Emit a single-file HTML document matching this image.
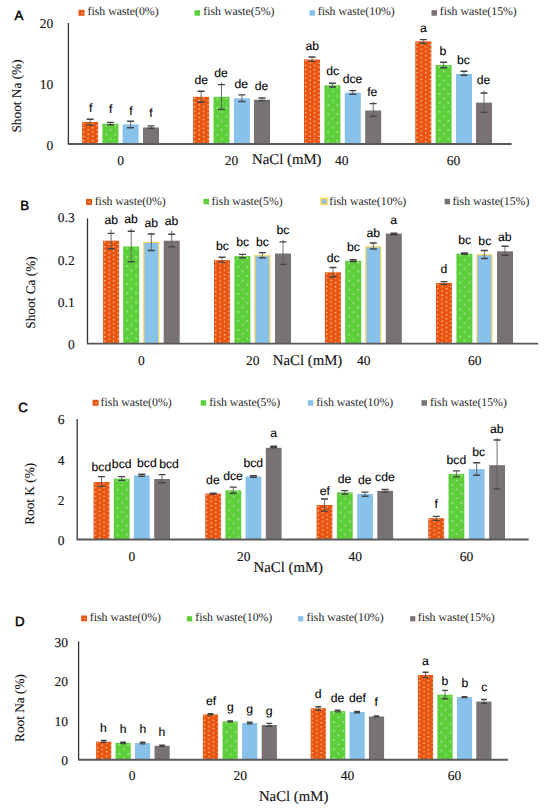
<!DOCTYPE html>
<html><head><meta charset="utf-8"><title>Chart</title>
<style>
html,body{margin:0;padding:0;background:#fff;}
svg{display:block;text-rendering:geometricPrecision;}
.s{font-family:"Liberation Serif",serif;fill:#111;stroke:#111;stroke-width:0.12px;}
.l{font-family:"Liberation Sans",sans-serif;fill:#000;stroke:#000;stroke-width:0.12px;}
.lg{font-family:"Liberation Serif",serif;fill:#262626;}
</style></head><body>
<svg width="550" height="811" viewBox="0 0 550 811">
<defs>
<pattern id="pO" patternUnits="userSpaceOnUse" width="8.86" height="4.3"><rect width="8.86" height="4.3" fill="#E9540F"/><rect x="1" y="0.9" width="1.3" height="1.2" fill="#f8d9c2"/><rect x="5.43" y="3.05" width="1.3" height="1.2" fill="#f8d9c2"/></pattern>
<pattern id="pG" patternUnits="userSpaceOnUse" width="8.9" height="9"><rect width="8.9" height="9" fill="#5DCF3B"/><rect x="3.3" y="1.2" width="1.4" height="1.3" fill="#d4f0c8"/><rect x="7.75" y="5.7" width="1.4" height="1.3" fill="#d4f0c8"/></pattern>
</defs>
<rect width="550" height="811" fill="#fff"/>
<text class="l" x="14.4" y="20.3" font-size="13.3" style="stroke-width:0.45px">A</text>
<rect x="78.5" y="9.8" width="6" height="6" fill="#E9540F"/>
<rect x="81.3" y="12.4" width="1.3" height="1.3" fill="#f8d9c2"/>
<text class="lg" x="87.5" y="15.4" font-size="11.8">fish waste(0%)</text>
<rect x="194.5" y="10.2" width="5.5" height="5.5" fill="#5DCF3B"/>
<text class="lg" x="203.3" y="15.4" font-size="11.8">fish waste(5%)</text>
<rect x="309.5" y="10.2" width="5.5" height="5.5" fill="#88C1E9"/>
<text class="lg" x="317.8" y="15.4" font-size="11.8">fish waste(10%)</text>
<rect x="431.5" y="10.2" width="5.5" height="5.5" fill="#787272"/>
<text class="lg" x="439.8" y="15.4" font-size="11.8">fish waste(15%)</text>
<line x1="68.4" y1="23" x2="68.4" y2="144" stroke="#333" stroke-width="1.3"/>
<text class="s" x="53.2" y="28.2" font-size="13.5" text-anchor="end">20</text>
<text class="s" x="53.2" y="89.4" font-size="13.5" text-anchor="end">10</text>
<text class="s" x="53.2" y="150.2" font-size="13.5" text-anchor="end">0</text>
<text class="s" font-size="13.3" text-anchor="middle" transform="translate(16.9 96) rotate(-90)" y="4.5">Shoot Na (%)</text>
<text class="s" x="120.5" y="165.4" font-size="13.5" text-anchor="middle">0</text>
<text class="s" x="231.5" y="165.4" font-size="13.5" text-anchor="middle">20</text>
<text class="s" x="341.8" y="165.4" font-size="13.5" text-anchor="middle">40</text>
<text class="s" x="453.5" y="165.4" font-size="13.5" text-anchor="middle">60</text>
<text class="s" x="252.1" y="164.2" font-size="14.8">NaCl (mM)</text>
<rect transform="translate(82.1 122)" width="16" height="22" fill="url(#pO)"/>
<path d="M90.1 119.3V125.1" stroke="#5e5e5e" stroke-width="0.9" fill="none"/>
<path d="M86.6 119.3H93.6M86.6 125.1H93.6" stroke="#444444" stroke-width="1.4" fill="none"/>
<text class="l" x="90.7" y="111.7" font-size="12.2" text-anchor="middle">f</text>
<rect transform="translate(102.4 123.7)" width="16" height="20.3" fill="url(#pG)"/>
<path d="M110.4 122.4V124.8" stroke="#5e5e5e" stroke-width="0.9" fill="none"/>
<path d="M106.9 122.4H113.9M106.9 124.8H113.9" stroke="#444444" stroke-width="1.4" fill="none"/>
<text class="l" x="110.8" y="113.2" font-size="12.2" text-anchor="middle">f</text>
<rect x="122.6" y="124.4" width="16" height="19.6" fill="#88C1E9"/>
<path d="M130.6 121.3V127.8" stroke="#5e5e5e" stroke-width="0.9" fill="none"/>
<path d="M127.1 121.3H134.1M127.1 127.8H134.1" stroke="#444444" stroke-width="1.4" fill="none"/>
<text class="l" x="131" y="114.8" font-size="12.2" text-anchor="middle">f</text>
<rect x="143" y="127.5" width="16" height="16.5" fill="#787272"/>
<path d="M151 125.9V128.2" stroke="#5e5e5e" stroke-width="0.9" fill="none"/>
<path d="M147.5 125.9H154.5M147.5 128.2H154.5" stroke="#444444" stroke-width="1.4" fill="none"/>
<text class="l" x="151" y="117.4" font-size="12.2" text-anchor="middle">f</text>
<rect transform="translate(193.1 96.8)" width="16" height="47.2" fill="url(#pO)"/>
<path d="M201.1 91.3V102.3" stroke="#5e5e5e" stroke-width="0.9" fill="none"/>
<path d="M197.6 91.3H204.6M197.6 102.3H204.6" stroke="#444444" stroke-width="1.4" fill="none"/>
<text class="l" x="201.3" y="84.2" font-size="12.2" text-anchor="middle">de</text>
<rect transform="translate(213.5 96.8)" width="16" height="47.2" fill="url(#pG)"/>
<path d="M221.5 82.5V109.4" stroke="#5e5e5e" stroke-width="0.9" fill="none"/>
<path d="M218 84.6H225M218 109.4H225" stroke="#444444" stroke-width="1.4" fill="none"/>
<text class="l" x="221" y="76.8" font-size="12.2" text-anchor="middle">de</text>
<rect x="233.9" y="98.3" width="16" height="45.7" fill="#88C1E9"/>
<path d="M241.9 94.9V101.5" stroke="#5e5e5e" stroke-width="0.9" fill="none"/>
<path d="M238.4 94.9H245.4M238.4 101.5H245.4" stroke="#444444" stroke-width="1.4" fill="none"/>
<text class="l" x="241.3" y="88" font-size="12.2" text-anchor="middle">de</text>
<rect x="254" y="99.7" width="16" height="44.3" fill="#787272"/>
<path d="M262 98V100.8" stroke="#5e5e5e" stroke-width="0.9" fill="none"/>
<path d="M258.5 98H265.5M258.5 100.8H265.5" stroke="#444444" stroke-width="1.4" fill="none"/>
<text class="l" x="261.5" y="89.7" font-size="12.2" text-anchor="middle">de</text>
<rect transform="translate(304 59.5)" width="16" height="84.5" fill="url(#pO)"/>
<path d="M312 57V61.4" stroke="#5e5e5e" stroke-width="0.9" fill="none"/>
<path d="M308.5 57H315.5M308.5 61.4H315.5" stroke="#444444" stroke-width="1.4" fill="none"/>
<text class="l" x="312.2" y="49.6" font-size="12.2" text-anchor="middle">ab</text>
<rect transform="translate(324.4 85.3)" width="16" height="58.7" fill="url(#pG)"/>
<path d="M332.4 83.2V87" stroke="#5e5e5e" stroke-width="0.9" fill="none"/>
<path d="M328.9 83.2H335.9M328.9 87H335.9" stroke="#444444" stroke-width="1.4" fill="none"/>
<text class="l" x="332.7" y="75" font-size="12.2" text-anchor="middle">dc</text>
<rect x="344.8" y="92.7" width="16" height="51.3" fill="#88C1E9"/>
<path d="M352.8 90.6V94.3" stroke="#5e5e5e" stroke-width="0.9" fill="none"/>
<path d="M349.3 90.6H356.3M349.3 94.3H356.3" stroke="#444444" stroke-width="1.4" fill="none"/>
<text class="l" x="352.5" y="82.7" font-size="12.2" text-anchor="middle">dce</text>
<rect x="365.2" y="110.5" width="16" height="33.5" fill="#787272"/>
<path d="M373.2 101.8V116.4" stroke="#5e5e5e" stroke-width="0.9" fill="none"/>
<path d="M369.7 103.6H376.7M369.7 116.4H376.7" stroke="#444444" stroke-width="1.4" fill="none"/>
<text class="l" x="372.3" y="96.3" font-size="12.2" text-anchor="middle">fe</text>
<rect transform="translate(415.3 41.3)" width="16" height="102.7" fill="url(#pO)"/>
<path d="M423.3 39.6V43.2" stroke="#5e5e5e" stroke-width="0.9" fill="none"/>
<path d="M419.8 39.6H426.8M419.8 43.2H426.8" stroke="#444444" stroke-width="1.4" fill="none"/>
<text class="l" x="423.5" y="31.8" font-size="12.2" text-anchor="middle">a</text>
<rect transform="translate(435.6 65)" width="16" height="79" fill="url(#pG)"/>
<path d="M443.6 62.2V67.8" stroke="#5e5e5e" stroke-width="0.9" fill="none"/>
<path d="M440.1 62.2H447.1M440.1 67.8H447.1" stroke="#444444" stroke-width="1.4" fill="none"/>
<text class="l" x="443" y="55.2" font-size="12.2" text-anchor="middle">b</text>
<rect x="456" y="74" width="16" height="70" fill="#88C1E9"/>
<path d="M464 71.2V75.3" stroke="#5e5e5e" stroke-width="0.9" fill="none"/>
<path d="M460.5 71.2H467.5M460.5 75.3H467.5" stroke="#444444" stroke-width="1.4" fill="none"/>
<text class="l" x="463.5" y="63.9" font-size="12.2" text-anchor="middle">bc</text>
<rect x="476" y="102.6" width="16" height="41.4" fill="#787272"/>
<path d="M484 90.4V112.4" stroke="#5e5e5e" stroke-width="0.9" fill="none"/>
<path d="M480.5 93H487.5M480.5 112.4H487.5" stroke="#444444" stroke-width="1.4" fill="none"/>
<text class="l" x="483.5" y="84.2" font-size="12.2" text-anchor="middle">de</text>
<line x1="67.8" y1="144" x2="511.6" y2="144" stroke="#595959" stroke-width="1.9"/>
<text class="l" x="20.3" y="210.2" font-size="13.3" style="stroke-width:0.45px">B</text>
<rect x="86" y="198.9" width="6" height="6" fill="#E9540F"/>
<rect x="88.8" y="201.5" width="1.3" height="1.3" fill="#f8d9c2"/>
<text class="lg" x="94.7" y="205.1" font-size="11.8">fish waste(0%)</text>
<rect x="203.5" y="198.8" width="5.5" height="5.5" fill="#5DCF3B"/>
<text class="lg" x="211.6" y="205.1" font-size="11.8">fish waste(5%)</text>
<rect x="321.05" y="198.45" width="6" height="6" fill="#88C1E9" stroke="#FFD34F" stroke-width="1.5"/>
<text class="lg" x="329.3" y="205.1" font-size="11.8">fish waste(10%)</text>
<rect x="444.6" y="198.8" width="5.5" height="5.5" fill="#787272"/>
<text class="lg" x="452.4" y="205.1" font-size="11.8">fish waste(15%)</text>
<line x1="87.5" y1="218.4" x2="87.5" y2="343.6" stroke="#333" stroke-width="1.3"/>
<text class="s" x="74.7" y="221.8" font-size="13.5" text-anchor="end">0.3</text>
<text class="s" x="74.7" y="264.6" font-size="13.5" text-anchor="end">0.2</text>
<text class="s" x="74.7" y="306.8" font-size="13.5" text-anchor="end">0.1</text>
<text class="s" x="74.7" y="349.1" font-size="13.5" text-anchor="end">0</text>
<text class="s" font-size="13.3" text-anchor="middle" transform="translate(30.2 292.5) rotate(-90)" y="4.5">Shoot Ca (%)</text>
<text class="s" x="141.3" y="364.5" font-size="13.5" text-anchor="middle">0</text>
<text class="s" x="252.7" y="364.5" font-size="13.5" text-anchor="middle">20</text>
<text class="s" x="363.8" y="364.5" font-size="13.5" text-anchor="middle">40</text>
<text class="s" x="474.7" y="364.5" font-size="13.5" text-anchor="middle">60</text>
<text class="s" x="272.8" y="364.5" font-size="14.8">NaCl (mM)</text>
<rect transform="translate(103.1 240.7)" width="16" height="102.9" fill="url(#pO)"/>
<path d="M111.1 229.5V248.8" stroke="#5e5e5e" stroke-width="0.9" fill="none"/>
<path d="M107.6 233.4H114.6M107.6 248.8H114.6" stroke="#444444" stroke-width="1.4" fill="none"/>
<text class="l" x="111.2" y="224.4" font-size="12.2" text-anchor="middle">ab</text>
<rect transform="translate(123.2 246.4)" width="16" height="97.2" fill="url(#pG)"/>
<path d="M131.2 228.6V261.8" stroke="#5e5e5e" stroke-width="0.9" fill="none"/>
<path d="M127.7 231.2H134.7M127.7 261.8H134.7" stroke="#444444" stroke-width="1.4" fill="none"/>
<text class="l" x="131" y="223.4" font-size="12.2" text-anchor="middle">ab</text>
<rect x="143.85" y="242.35" width="14.9" height="101.25" fill="#88C1E9" stroke="#FFD34F" stroke-width="1.1"/>
<path d="M151.3 232.8V250.5" stroke="#5e5e5e" stroke-width="0.9" fill="none"/>
<path d="M147.8 234H154.8M147.8 250.5H154.8" stroke="#444444" stroke-width="1.4" fill="none"/>
<text class="l" x="151.3" y="227.1" font-size="12.2" text-anchor="middle">ab</text>
<rect x="163.7" y="240.7" width="16" height="102.9" fill="#787272"/>
<path d="M171.7 230.7V246.9" stroke="#5e5e5e" stroke-width="0.9" fill="none"/>
<path d="M168.2 234.2H175.2M168.2 246.9H175.2" stroke="#444444" stroke-width="1.4" fill="none"/>
<text class="l" x="171.5" y="225" font-size="12.2" text-anchor="middle">ab</text>
<rect transform="translate(214 260.1)" width="16" height="83.5" fill="url(#pO)"/>
<path d="M222 257.3V262.1" stroke="#5e5e5e" stroke-width="0.9" fill="none"/>
<path d="M218.5 257.3H225.5M218.5 262.1H225.5" stroke="#444444" stroke-width="1.4" fill="none"/>
<text class="l" x="222.4" y="250" font-size="12.2" text-anchor="middle">bc</text>
<rect transform="translate(234.4 256.1)" width="16" height="87.5" fill="url(#pG)"/>
<path d="M242.4 254.4V257.8" stroke="#5e5e5e" stroke-width="0.9" fill="none"/>
<path d="M238.9 254.4H245.9M238.9 257.8H245.9" stroke="#444444" stroke-width="1.4" fill="none"/>
<text class="l" x="242.6" y="245.7" font-size="12.2" text-anchor="middle">bc</text>
<rect x="254.95" y="255.75" width="14.9" height="87.85" fill="#88C1E9" stroke="#FFD34F" stroke-width="1.1"/>
<path d="M262.4 252.6V257.8" stroke="#5e5e5e" stroke-width="0.9" fill="none"/>
<path d="M258.9 252.6H265.9M258.9 257.8H265.9" stroke="#444444" stroke-width="1.4" fill="none"/>
<text class="l" x="262.4" y="245.7" font-size="12.2" text-anchor="middle">bc</text>
<rect x="275" y="253.5" width="16" height="90.1" fill="#787272"/>
<path d="M283 239.7V264.4" stroke="#5e5e5e" stroke-width="0.9" fill="none"/>
<path d="M279.5 241.9H286.5M279.5 264.4H286.5" stroke="#444444" stroke-width="1.4" fill="none"/>
<text class="l" x="283" y="233.6" font-size="12.2" text-anchor="middle">bc</text>
<rect transform="translate(325 272.3)" width="16" height="71.3" fill="url(#pO)"/>
<path d="M333 267.5V277" stroke="#5e5e5e" stroke-width="0.9" fill="none"/>
<path d="M329.5 267.5H336.5M329.5 277H336.5" stroke="#444444" stroke-width="1.4" fill="none"/>
<text class="l" x="333.1" y="262.3" font-size="12.2" text-anchor="middle">dc</text>
<rect transform="translate(345.2 260.8)" width="16" height="82.8" fill="url(#pG)"/>
<path d="M353.2 259.7V261.5" stroke="#5e5e5e" stroke-width="0.9" fill="none"/>
<path d="M349.7 259.7H356.7M349.7 261.5H356.7" stroke="#444444" stroke-width="1.4" fill="none"/>
<text class="l" x="353.4" y="250.7" font-size="12.2" text-anchor="middle">bc</text>
<rect x="365.85" y="246.85" width="14.9" height="96.75" fill="#88C1E9" stroke="#FFD34F" stroke-width="1.1"/>
<path d="M373.3 243V249" stroke="#5e5e5e" stroke-width="0.9" fill="none"/>
<path d="M369.8 243H376.8M369.8 249H376.8" stroke="#444444" stroke-width="1.4" fill="none"/>
<text class="l" x="373.3" y="236.9" font-size="12.2" text-anchor="middle">ab</text>
<rect x="385.8" y="233.6" width="16" height="110" fill="#787272"/>
<path d="M393.8 233.3V234.7" stroke="#5e5e5e" stroke-width="0.9" fill="none"/>
<path d="M390.3 233.3H397.3M390.3 234.7H397.3" stroke="#444444" stroke-width="1.4" fill="none"/>
<text class="l" x="393.6" y="223.8" font-size="12.2" text-anchor="middle">a</text>
<rect transform="translate(436 283)" width="16" height="60.6" fill="url(#pO)"/>
<path d="M444 281.6V284.4" stroke="#5e5e5e" stroke-width="0.9" fill="none"/>
<path d="M440.5 281.6H447.5M440.5 284.4H447.5" stroke="#444444" stroke-width="1.4" fill="none"/>
<text class="l" x="444" y="273" font-size="12.2" text-anchor="middle">d</text>
<rect transform="translate(456.4 253.6)" width="16" height="90" fill="url(#pG)"/>
<path d="M464.4 253V254.2" stroke="#5e5e5e" stroke-width="0.9" fill="none"/>
<path d="M460.9 253H467.9M460.9 254.2H467.9" stroke="#444444" stroke-width="1.4" fill="none"/>
<text class="l" x="464.6" y="244" font-size="12.2" text-anchor="middle">bc</text>
<rect x="476.95" y="254.75" width="14.9" height="88.85" fill="#88C1E9" stroke="#FFD34F" stroke-width="1.1"/>
<path d="M484.4 250.5V258.5" stroke="#5e5e5e" stroke-width="0.9" fill="none"/>
<path d="M480.9 250.5H487.9M480.9 258.5H487.9" stroke="#444444" stroke-width="1.4" fill="none"/>
<text class="l" x="484.8" y="245" font-size="12.2" text-anchor="middle">bc</text>
<rect x="497" y="251.3" width="16" height="92.3" fill="#787272"/>
<path d="M505 246.2V255.3" stroke="#5e5e5e" stroke-width="0.9" fill="none"/>
<path d="M501.5 246.2H508.5M501.5 255.3H508.5" stroke="#444444" stroke-width="1.4" fill="none"/>
<text class="l" x="504.7" y="241" font-size="12.2" text-anchor="middle">ab</text>
<line x1="86.9" y1="343.6" x2="538.2" y2="343.6" stroke="#595959" stroke-width="1.9"/>
<text class="l" x="18.2" y="411.7" font-size="13.3" style="stroke-width:0.45px">C</text>
<rect x="92.6" y="399.8" width="6" height="6" fill="#E9540F"/>
<rect x="95.4" y="402.4" width="1.3" height="1.3" fill="#f8d9c2"/>
<text class="lg" x="100.6" y="405.8" font-size="11.8">fish waste(0%)</text>
<rect x="200.7" y="400.2" width="5.5" height="5.5" fill="#5DCF3B"/>
<text class="lg" x="209.2" y="405.8" font-size="11.8">fish waste(5%)</text>
<rect x="307.8" y="400.2" width="5.5" height="5.5" fill="#88C1E9"/>
<text class="lg" x="316.2" y="405.8" font-size="11.8">fish waste(10%)</text>
<rect x="421.5" y="400.2" width="5.5" height="5.5" fill="#787272"/>
<text class="lg" x="429.9" y="405.8" font-size="11.8">fish waste(15%)</text>
<line x1="77.2" y1="418.9" x2="77.2" y2="539.5" stroke="#333" stroke-width="1.3"/>
<text class="s" x="64.6" y="424" font-size="13.5" text-anchor="end">6</text>
<text class="s" x="64.6" y="464.6" font-size="13.5" text-anchor="end">4</text>
<text class="s" x="64.6" y="505.1" font-size="13.5" text-anchor="end">2</text>
<text class="s" x="64.6" y="545.2" font-size="13.5" text-anchor="end">0</text>
<text class="s" font-size="13.3" text-anchor="middle" transform="translate(29.3 493.8) rotate(-90)" y="4.5">Root K (%)</text>
<text class="s" x="131.8" y="560.8" font-size="13.5" text-anchor="middle">0</text>
<text class="s" x="243.8" y="560.8" font-size="13.5" text-anchor="middle">20</text>
<text class="s" x="355.2" y="560.8" font-size="13.5" text-anchor="middle">40</text>
<text class="s" x="466.5" y="560.8" font-size="13.5" text-anchor="middle">60</text>
<text class="s" x="253.6" y="572" font-size="14.8">NaCl (mM)</text>
<rect transform="translate(93.6 482)" width="15.8" height="57.5" fill="url(#pO)"/>
<path d="M101.5 476.6V486.4" stroke="#5e5e5e" stroke-width="0.9" fill="none"/>
<path d="M98 476.6H105M98 486.4H105" stroke="#444444" stroke-width="1.4" fill="none"/>
<text class="l" x="101.4" y="471.4" font-size="12.2" text-anchor="middle">bcd</text>
<rect transform="translate(113.8 478.7)" width="15.8" height="60.8" fill="url(#pG)"/>
<path d="M121.7 476.6V480.4" stroke="#5e5e5e" stroke-width="0.9" fill="none"/>
<path d="M118.2 476.6H125.2M118.2 480.4H125.2" stroke="#444444" stroke-width="1.4" fill="none"/>
<text class="l" x="121.7" y="468.1" font-size="12.2" text-anchor="middle">bcd</text>
<rect x="133.9" y="475.5" width="15.8" height="64" fill="#88C1E9"/>
<path d="M141.8 474.3V476.3" stroke="#5e5e5e" stroke-width="0.9" fill="none"/>
<path d="M138.3 474.3H145.3M138.3 476.3H145.3" stroke="#444444" stroke-width="1.4" fill="none"/>
<text class="l" x="146.9" y="466.8" font-size="12.2" text-anchor="middle">bcd</text>
<rect x="154.2" y="479" width="15.8" height="60.5" fill="#787272"/>
<path d="M162.1 474.6V482.8" stroke="#5e5e5e" stroke-width="0.9" fill="none"/>
<path d="M158.6 474.6H165.6M158.6 482.8H165.6" stroke="#444444" stroke-width="1.4" fill="none"/>
<text class="l" x="169" y="468.4" font-size="12.2" text-anchor="middle">bcd</text>
<rect transform="translate(205.3 493.6)" width="15.8" height="45.9" fill="url(#pO)"/>
<path d="M213.2 493.2V494.1" stroke="#5e5e5e" stroke-width="0.9" fill="none"/>
<path d="M209.7 493.2H216.7M209.7 494.1H216.7" stroke="#444444" stroke-width="1.4" fill="none"/>
<text class="l" x="212.9" y="483.8" font-size="12.2" text-anchor="middle">de</text>
<rect transform="translate(225.4 490.4)" width="15.8" height="49.1" fill="url(#pG)"/>
<path d="M233.3 487.1V493.3" stroke="#5e5e5e" stroke-width="0.9" fill="none"/>
<path d="M229.8 487.1H236.8M229.8 493.3H236.8" stroke="#444444" stroke-width="1.4" fill="none"/>
<text class="l" x="233" y="480.2" font-size="12.2" text-anchor="middle">dce</text>
<rect x="245.5" y="476.5" width="15.8" height="63" fill="#88C1E9"/>
<path d="M253.4 475.6V477.3" stroke="#5e5e5e" stroke-width="0.9" fill="none"/>
<path d="M249.9 475.6H256.9M249.9 477.3H256.9" stroke="#444444" stroke-width="1.4" fill="none"/>
<text class="l" x="253.3" y="466.6" font-size="12.2" text-anchor="middle">bcd</text>
<rect x="265.8" y="447.8" width="15.8" height="91.7" fill="#787272"/>
<path d="M273.7 446.2V447.8" stroke="#5e5e5e" stroke-width="0.9" fill="none"/>
<path d="M270.2 446.2H277.2M270.2 447.8H277.2" stroke="#444444" stroke-width="1.4" fill="none"/>
<text class="l" x="273.6" y="437.2" font-size="12.2" text-anchor="middle">a</text>
<rect transform="translate(316.6 505)" width="15.8" height="34.5" fill="url(#pO)"/>
<path d="M324.5 499V511.1" stroke="#5e5e5e" stroke-width="0.9" fill="none"/>
<path d="M321 499H328M321 511.1H328" stroke="#444444" stroke-width="1.4" fill="none"/>
<text class="l" x="324.8" y="494.7" font-size="12.2" text-anchor="middle">ef</text>
<rect transform="translate(336.9 492.4)" width="15.8" height="47.1" fill="url(#pG)"/>
<path d="M344.8 490.6V494" stroke="#5e5e5e" stroke-width="0.9" fill="none"/>
<path d="M341.3 490.6H348.3M341.3 494H348.3" stroke="#444444" stroke-width="1.4" fill="none"/>
<text class="l" x="344.6" y="482.6" font-size="12.2" text-anchor="middle">de</text>
<rect x="357.1" y="494" width="15.8" height="45.5" fill="#88C1E9"/>
<path d="M365 492.1V496.3" stroke="#5e5e5e" stroke-width="0.9" fill="none"/>
<path d="M361.5 492.1H368.5M361.5 496.3H368.5" stroke="#444444" stroke-width="1.4" fill="none"/>
<text class="l" x="364.8" y="484.2" font-size="12.2" text-anchor="middle">de</text>
<rect x="377.3" y="490.8" width="15.8" height="48.7" fill="#787272"/>
<path d="M385.2 489.5V492.1" stroke="#5e5e5e" stroke-width="0.9" fill="none"/>
<path d="M381.7 489.5H388.7M381.7 492.1H388.7" stroke="#444444" stroke-width="1.4" fill="none"/>
<text class="l" x="384.9" y="480.9" font-size="12.2" text-anchor="middle">cde</text>
<rect transform="translate(428.3 518.2)" width="15.8" height="21.3" fill="url(#pO)"/>
<path d="M436.2 516.4V520.4" stroke="#5e5e5e" stroke-width="0.9" fill="none"/>
<path d="M432.7 516.4H439.7M432.7 520.4H439.7" stroke="#444444" stroke-width="1.4" fill="none"/>
<text class="l" x="436.2" y="508.2" font-size="12.2" text-anchor="middle">f</text>
<rect transform="translate(448.5 474)" width="15.8" height="65.5" fill="url(#pG)"/>
<path d="M456.4 470.9V476.9" stroke="#5e5e5e" stroke-width="0.9" fill="none"/>
<path d="M452.9 470.9H459.9M452.9 476.9H459.9" stroke="#444444" stroke-width="1.4" fill="none"/>
<text class="l" x="456.4" y="464.2" font-size="12.2" text-anchor="middle">bcd</text>
<rect x="468.8" y="469.1" width="15.8" height="70.4" fill="#88C1E9"/>
<path d="M476.7 462.7V475.3" stroke="#5e5e5e" stroke-width="0.9" fill="none"/>
<path d="M473.2 462.7H480.2M473.2 475.3H480.2" stroke="#444444" stroke-width="1.4" fill="none"/>
<text class="l" x="478.6" y="455.5" font-size="12.2" text-anchor="middle">bc</text>
<rect x="489.2" y="465.2" width="15.8" height="74.3" fill="#787272"/>
<path d="M497.1 438.2V488.9" stroke="#5e5e5e" stroke-width="0.9" fill="none"/>
<path d="M493.6 440H500.6M493.6 488.9H500.6" stroke="#444444" stroke-width="1.4" fill="none"/>
<text class="l" x="496.8" y="433.1" font-size="12.2" text-anchor="middle">ab</text>
<line x1="76.6" y1="539.5" x2="528.7" y2="539.5" stroke="#595959" stroke-width="1.9"/>
<text class="l" x="14.9" y="626.3" font-size="13.3" style="stroke-width:0.45px">D</text>
<rect x="81.2" y="615.5" width="5.8" height="5.8" fill="#E9540F"/>
<rect x="83.9" y="618" width="1.3" height="1.3" fill="#f8d9c2"/>
<text class="lg" x="89.8" y="621.4" font-size="11.8">fish waste(0%)</text>
<rect x="186.9" y="616.2" width="5.2" height="5.2" fill="#5DCF3B"/>
<text class="lg" x="195.3" y="621.4" font-size="11.8">fish waste(10%)</text>
<rect x="298.1" y="616.2" width="5.2" height="5.2" fill="#88C1E9"/>
<text class="lg" x="306.6" y="621.4" font-size="11.8">fish waste(10%)</text>
<rect x="410.1" y="616.2" width="5.2" height="5.2" fill="#787272"/>
<text class="lg" x="417.8" y="621.4" font-size="11.8">fish waste(15%)</text>
<line x1="78.6" y1="641.4" x2="78.6" y2="759.7" stroke="#333" stroke-width="1.3"/>
<text class="s" x="68" y="647.1" font-size="13.5" text-anchor="end">30</text>
<text class="s" x="68" y="686.4" font-size="13.5" text-anchor="end">20</text>
<text class="s" x="68" y="725.8" font-size="13.5" text-anchor="end">10</text>
<text class="s" x="68" y="765" font-size="13.5" text-anchor="end">0</text>
<text class="s" font-size="13.3" text-anchor="middle" transform="translate(19.4 708) rotate(-90)" y="4.5">Root Na (%)</text>
<text class="s" x="132.2" y="780.3" font-size="13.5" text-anchor="middle">0</text>
<text class="s" x="240.2" y="780.3" font-size="13.5" text-anchor="middle">20</text>
<text class="s" x="347.5" y="780.3" font-size="13.5" text-anchor="middle">40</text>
<text class="s" x="454.6" y="780.3" font-size="13.5" text-anchor="middle">60</text>
<text class="s" x="258.9" y="800.7" font-size="14.8">NaCl (mM)</text>
<rect transform="translate(96.1 741.7)" width="15.2" height="18" fill="url(#pO)"/>
<path d="M103.7 740.4V742.2" stroke="#5e5e5e" stroke-width="0.9" fill="none"/>
<path d="M100.8 740.4H106.6M100.8 742.2H106.6" stroke="#444444" stroke-width="1.4" fill="none"/>
<text class="l" x="103.5" y="731.9" font-size="12.2" text-anchor="middle">h</text>
<rect transform="translate(115.5 742.9)" width="15.2" height="16.8" fill="url(#pG)"/>
<path d="M123.1 742.2V743.5" stroke="#5e5e5e" stroke-width="0.9" fill="none"/>
<path d="M120.2 742.2H126M120.2 743.5H126" stroke="#444444" stroke-width="1.4" fill="none"/>
<text class="l" x="123.2" y="732.7" font-size="12.2" text-anchor="middle">h</text>
<rect x="135" y="743" width="15.2" height="16.7" fill="#88C1E9"/>
<path d="M142.6 742.2V743.9" stroke="#5e5e5e" stroke-width="0.9" fill="none"/>
<path d="M139.7 742.2H145.5M139.7 743.9H145.5" stroke="#444444" stroke-width="1.4" fill="none"/>
<text class="l" x="142.8" y="732.7" font-size="12.2" text-anchor="middle">h</text>
<rect x="154.5" y="745.8" width="15.2" height="13.9" fill="#787272"/>
<path d="M162.1 745.2V746.2" stroke="#5e5e5e" stroke-width="0.9" fill="none"/>
<path d="M159.2 745.2H165M159.2 746.2H165" stroke="#444444" stroke-width="1.4" fill="none"/>
<text class="l" x="162" y="735.7" font-size="12.2" text-anchor="middle">h</text>
<rect transform="translate(202.9 714.4)" width="15.2" height="45.3" fill="url(#pO)"/>
<path d="M210.5 713.6V714.7" stroke="#5e5e5e" stroke-width="0.9" fill="none"/>
<path d="M207.6 713.6H213.4M207.6 714.7H213.4" stroke="#444444" stroke-width="1.4" fill="none"/>
<text class="l" x="211" y="704.5" font-size="12.2" text-anchor="middle">ef</text>
<rect transform="translate(222.5 721.4)" width="15.2" height="38.3" fill="url(#pG)"/>
<path d="M230.1 720.9V721.9" stroke="#5e5e5e" stroke-width="0.9" fill="none"/>
<path d="M227.2 720.9H233M227.2 721.9H233" stroke="#444444" stroke-width="1.4" fill="none"/>
<text class="l" x="230.3" y="711.4" font-size="12.2" text-anchor="middle">g</text>
<rect x="242.1" y="723" width="15.2" height="36.7" fill="#88C1E9"/>
<path d="M249.7 722.2V723.9" stroke="#5e5e5e" stroke-width="0.9" fill="none"/>
<path d="M246.8 722.2H252.6M246.8 723.9H252.6" stroke="#444444" stroke-width="1.4" fill="none"/>
<text class="l" x="249.6" y="713" font-size="12.2" text-anchor="middle">g</text>
<rect x="261.7" y="725" width="15.2" height="34.7" fill="#787272"/>
<path d="M269.3 723.4V726.2" stroke="#5e5e5e" stroke-width="0.9" fill="none"/>
<path d="M266.4 723.4H272.2M266.4 726.2H272.2" stroke="#444444" stroke-width="1.4" fill="none"/>
<text class="l" x="269.2" y="714.6" font-size="12.2" text-anchor="middle">g</text>
<rect transform="translate(310.7 708.3)" width="15.2" height="51.4" fill="url(#pO)"/>
<path d="M318.3 706.7V710.3" stroke="#5e5e5e" stroke-width="0.9" fill="none"/>
<path d="M315.4 706.7H321.2M315.4 710.3H321.2" stroke="#444444" stroke-width="1.4" fill="none"/>
<text class="l" x="318.2" y="698.3" font-size="12.2" text-anchor="middle">d</text>
<rect transform="translate(330.1 711.1)" width="15.2" height="48.6" fill="url(#pG)"/>
<path d="M337.7 710.3V711.9" stroke="#5e5e5e" stroke-width="0.9" fill="none"/>
<path d="M334.8 710.3H340.6M334.8 711.9H340.6" stroke="#444444" stroke-width="1.4" fill="none"/>
<text class="l" x="337.6" y="701.6" font-size="12.2" text-anchor="middle">de</text>
<rect x="349.5" y="711.9" width="15.2" height="47.8" fill="#88C1E9"/>
<path d="M357.1 711.4V712.7" stroke="#5e5e5e" stroke-width="0.9" fill="none"/>
<path d="M354.2 711.4H360M354.2 712.7H360" stroke="#444444" stroke-width="1.4" fill="none"/>
<text class="l" x="357.4" y="702.1" font-size="12.2" text-anchor="middle">def</text>
<rect x="368.9" y="716.5" width="15.2" height="43.2" fill="#787272"/>
<path d="M376.5 716V716.8" stroke="#5e5e5e" stroke-width="0.9" fill="none"/>
<path d="M373.6 716H379.4M373.6 716.8H379.4" stroke="#444444" stroke-width="1.4" fill="none"/>
<text class="l" x="376.2" y="706.2" font-size="12.2" text-anchor="middle">f</text>
<rect transform="translate(417.9 675)" width="15.2" height="84.7" fill="url(#pO)"/>
<path d="M425.5 672.2V677.6" stroke="#5e5e5e" stroke-width="0.9" fill="none"/>
<path d="M422.6 672.2H428.4M422.6 677.6H428.4" stroke="#444444" stroke-width="1.4" fill="none"/>
<text class="l" x="425.4" y="664.8" font-size="12.2" text-anchor="middle">a</text>
<rect transform="translate(437.4 694.7)" width="15.2" height="65" fill="url(#pG)"/>
<path d="M445 690.4V698.8" stroke="#5e5e5e" stroke-width="0.9" fill="none"/>
<path d="M442.1 690.4H447.9M442.1 698.8H447.9" stroke="#444444" stroke-width="1.4" fill="none"/>
<text class="l" x="444.8" y="685.3" font-size="12.2" text-anchor="middle">b</text>
<rect x="456.9" y="697.1" width="15.2" height="62.6" fill="#88C1E9"/>
<path d="M464.5 696.6V697.6" stroke="#5e5e5e" stroke-width="0.9" fill="none"/>
<path d="M461.6 696.6H467.4M461.6 697.6H467.4" stroke="#444444" stroke-width="1.4" fill="none"/>
<text class="l" x="464.8" y="686.9" font-size="12.2" text-anchor="middle">b</text>
<rect x="476.3" y="701.6" width="15.2" height="58.1" fill="#787272"/>
<path d="M483.9 699.5V703.3" stroke="#5e5e5e" stroke-width="0.9" fill="none"/>
<path d="M481 699.5H486.8M481 703.3H486.8" stroke="#444444" stroke-width="1.4" fill="none"/>
<text class="l" x="484.4" y="691.3" font-size="12.2" text-anchor="middle">c</text>
<line x1="78" y1="759.7" x2="508" y2="759.7" stroke="#595959" stroke-width="1.9"/>
</svg>
</body></html>
